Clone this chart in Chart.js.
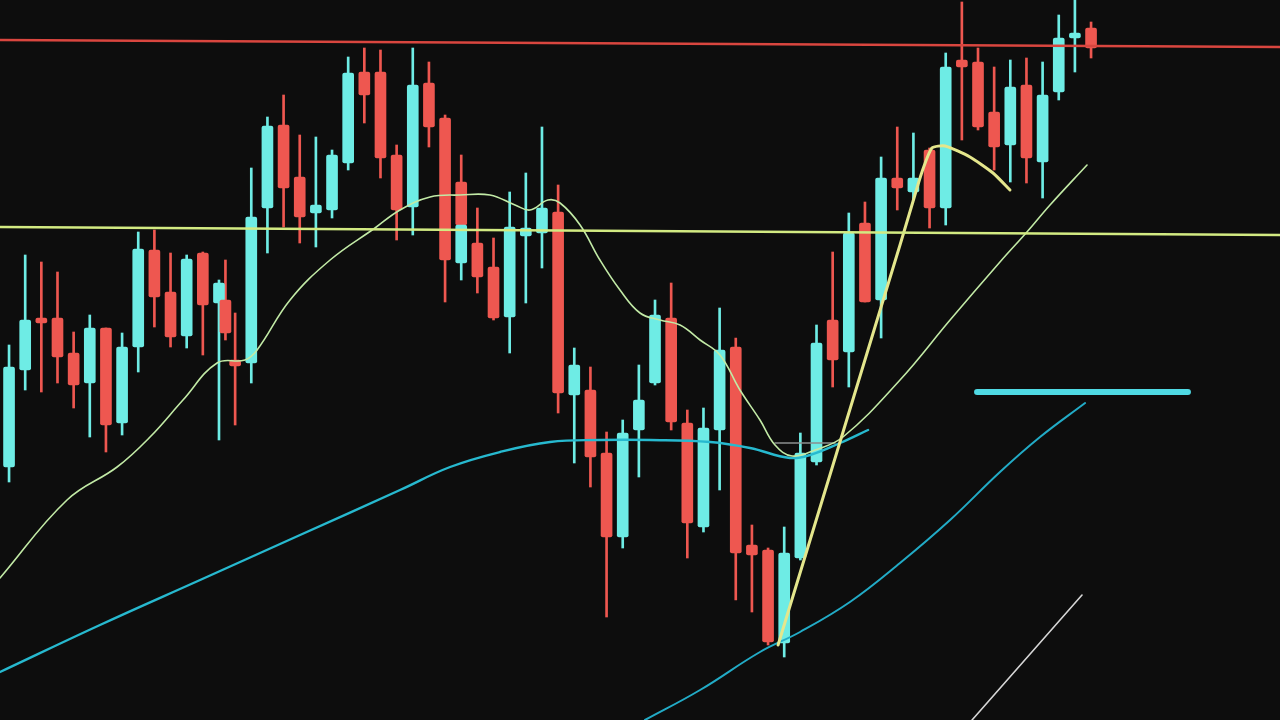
<!DOCTYPE html>
<html>
<head>
<meta charset="utf-8">
<title>K线图</title>
<script src="https://cdn.jsdelivr.net/npm/chart.js@4.4.1/dist/chart.umd.min.js"></script>
<style>
  html, body { margin: 0; padding: 0; background: #0d0d0d; }
  #wrap { width: 1280px; height: 720px; }
</style>
</head>
<body>
<div id="wrap"><canvas id="kline" width="1280" height="720"></canvas></div>
<script>
// candle data (time index, open, high, low, close)
const times  = [0, 1, 2, 3, 4, 5, 6, 7, 8, 9, 10, 11, 12, 13, 13.4, 14, 15, 16, 17, 18, 19, 20, 21, 22, 23, 24, 25, 26, 27, 28, 28, 29, 30, 31, 32, 33, 34, 35, 36, 37, 38, 39, 40, 41, 42, 43, 44, 45, 46, 47, 48, 49, 50, 51, 52, 53, 54, 55, 56, 57, 58, 59, 60, 61, 62, 63, 64, 65, 66, 67];
const opens  = [253, 350, 402, 402, 367, 337, 392, 297, 373, 470, 428, 384, 467, 417, 420, 360, 357, 512, 595, 543, 507, 510, 557, 648, 648, 565, 513, 637, 602, 538, 457, 477, 453, 403, 484, 487, 508, 325, 330, 267, 183, 290, 337, 402, 297, 193, 290, 373, 175, 170, 77, 162, 258, 400, 368, 497, 420, 542, 528, 570, 512, 660, 658, 608, 575, 635, 558, 628, 682, 692];
const highs  = [375, 465, 458, 448, 388, 405, 392, 387, 488, 490, 467, 465, 468, 440, 460, 407, 552, 603, 625, 585, 583, 570, 663, 672, 670, 575, 672, 658, 605, 565, 498, 512, 482, 528, 547, 593, 535, 372, 353, 288, 300, 355, 420, 437, 310, 312, 412, 382, 195, 172, 193, 287, 395, 468, 507, 518, 563, 593, 587, 572, 667, 718, 672, 653, 660, 662, 658, 705, 720, 698];
const lows   = [238, 330, 328, 337, 312, 283, 268, 285, 348, 393, 373, 372, 365, 280, 380, 295, 337, 467, 493, 477, 473, 502, 550, 597, 542, 480, 485, 573, 418, 492, 440, 427, 400, 367, 417, 452, 307, 257, 233, 103, 172, 243, 335, 290, 162, 188, 230, 120, 108, 75, 63, 160, 255, 333, 333, 418, 382, 510, 520, 492, 495, 580, 590, 550, 538, 537, 522, 620, 648, 662];
const closes = [353, 400, 397, 363, 335, 392, 295, 373, 471, 423, 383, 461, 415, 437, 387, 354, 503, 594, 532, 503, 515, 565, 647, 625, 562, 510, 635, 593, 460, 495, 495, 443, 402, 493, 492, 512, 327, 355, 263, 183, 287, 320, 405, 298, 197, 292, 370, 167, 165, 78, 167, 267, 377, 360, 487, 418, 542, 532, 542, 512, 653, 653, 593, 573, 633, 562, 625, 682, 687, 672];

// moving averages and drawn lines: time index / price pairs
const maFastT = [-0.56, 3.59, 6.69, 8.73, 10.77, 12.88, 14.61, 15.36, 17.4, 19.88, 22.66, 24.21, 26.07, 27.93, 29.78, 31.33, 32.26, 33.37, 34.12, 35.36, 36.59, 37.83, 39.07, 40.31, 41.55, 42.79, 44.02, 45.26, 46.5, 47.43, 48.48, 49.91, 51.64, 55.17, 58.27, 61.36, 63.03, 64.46, 66.75];
const maFastV = [142, 220, 253, 283, 320, 357, 360, 370, 420, 460, 492, 510, 523, 525, 525, 515, 510, 520, 517, 495, 460, 430, 407, 400, 395, 380, 365, 330, 300, 275, 264, 270, 283, 340, 400, 458, 488, 515, 555];
const maMidT  = [-0.56, 5.63, 11.83, 18.02, 24.21, 27.31, 30.4, 33.5, 36.59, 39.69, 43.41, 45.88, 48.36, 49.6, 51.46, 53.19];
const maMidV  = [48, 95, 140, 185, 230, 253, 268, 278, 280, 280, 278, 272, 262, 265, 277, 290];
const maSlowT = [39.38, 42.79, 46.5, 48.98, 52.07, 55.17, 58.27, 61.36, 63.84, 66.63];
const maSlowV = [0, 30, 68, 88, 118, 157, 200, 248, 283, 317];
const trendT  = [47.62, 51.02, 53.62, 55.17, 55.91, 56.53, 57.15, 57.96, 59.5, 60.93, 61.98];
const trendV  = [75, 255, 393, 475, 515, 548, 572, 574, 563, 547, 530];
const resistT = [-0.56, 78.7];
const resistV = [680, 673];
const pivotT  = [-0.56, 78.7];
const pivotV  = [493, 485];
const targetT = [59.94, 73.0];
const targetV = [328, 328];
const rayT    = [59.63, 66.44];
const rayV    = [0, 125];
const flatT   = [47.43, 51.15];
const flatV   = [277, 277];

const UP = '#6eece5';
const DOWN = '#ee5750';

function pts(ts, vs) {
  return ts.map((t, i) => ({ x: t, y: vs[i] }));
}

function lineSet(ts, vs, color, width, tension) {
  return {
    type: 'line',
    data: pts(ts, vs),
    borderColor: color,
    borderWidth: width,
    pointRadius: 0,
    fill: false,
    tension: tension || 0,
    borderCapStyle: 'round',
    borderJoinStyle: 'round',
    order: 0
  };
}

const isUp = i => closes[i] >= opens[i];

const wicks = times.map((t, i) => ({ x: t, y: [lows[i], highs[i]] }));
const bodies = times.map((t, i) => ({ x: t, y: [Math.min(opens[i], closes[i]), Math.max(opens[i], closes[i])] }));

const datasets = [
  lineSet(resistT, resistV, '#d9463f', 2.5),
  lineSet(pivotT, pivotV, '#d2ea82', 2.5),
  lineSet(trendT, trendV, '#e4e68c', 3, 0.2),
  lineSet(maFastT, maFastV, '#c2eaa6', 1.6, 0.4),
  lineSet(maMidT, maMidV, '#27b9cf', 2.4, 0.4),
  lineSet(maSlowT, maSlowV, '#22abc6', 2, 0.4),
  lineSet(targetT, targetV, '#4fd9e3', 6),
  lineSet(rayT, rayV, '#d6d6d6', 1.6),
  lineSet(flatT, flatV, '#8a8f8f', 1.5),
  {
    type: 'bar',
    data: bodies,
    backgroundColor: ctx => isUp(ctx.dataIndex) ? UP : DOWN,
    barThickness: 11,
    borderRadius: 2,
    borderSkipped: false,
    grouped: false,
    order: 1
  },
  {
    type: 'bar',
    data: wicks,
    backgroundColor: ctx => isUp(ctx.dataIndex) ? UP : DOWN,
    barThickness: 2,
    grouped: false,
    order: 2
  }
];

new Chart(document.getElementById('kline'), {
  type: 'bar',
  data: { datasets: datasets },
  options: {
    responsive: false,
    animation: false,
    layout: { padding: 0 },
    plugins: { legend: { display: false }, tooltip: { enabled: false } },
    scales: {
      x: { type: 'linear', min: -0.56, max: 78.7, offset: false, display: false },
      y: { type: 'linear', min: 0, max: 720, display: false }
    }
  }
});
</script>
</body>
</html>
